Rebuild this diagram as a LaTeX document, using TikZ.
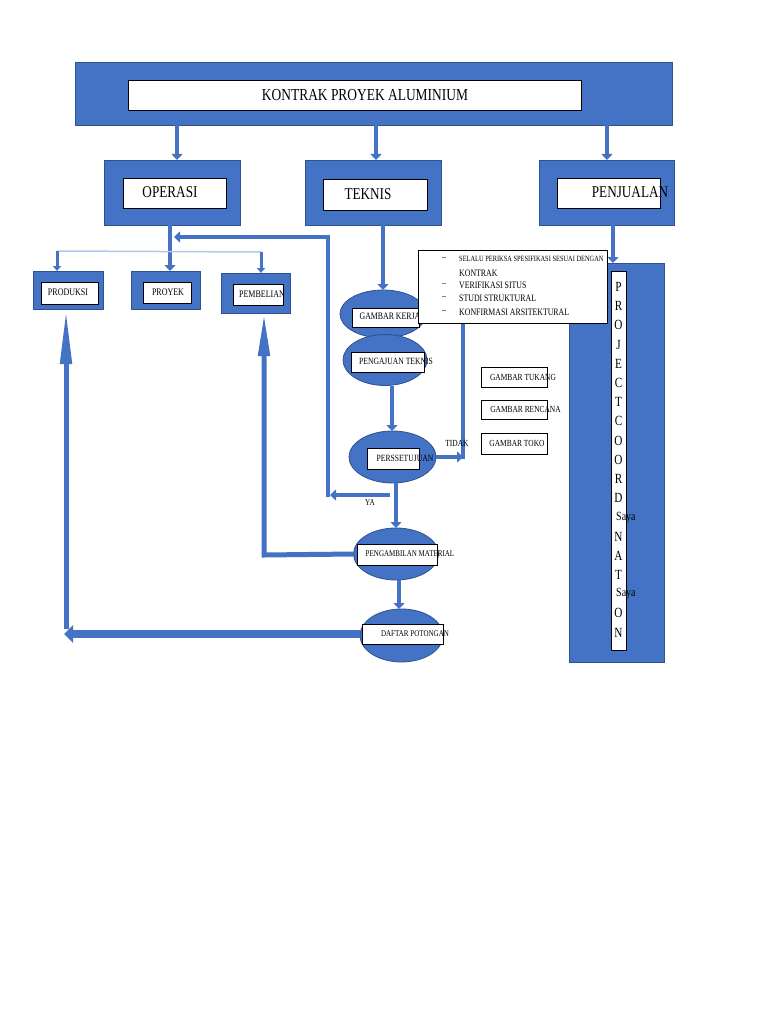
\documentclass[tikz,border=0pt]{standalone}
\usepackage{fontspec}
\setmainfont{Liberation Serif}[FakeStretch=0.8]
\usetikzlibrary{arrows.meta,shapes.geometric}
\definecolor{bfill}{HTML}{4472C4}
\definecolor{bedge}{HTML}{2F528F}
\definecolor{lightl}{HTML}{B4C7E7}
\newcommand{\fsz}[1]{\fontsize{#1}{#1}\selectfont}
\begin{document}
\begin{tikzpicture}[x=1pt,y=-1pt,
  bbox/.style={draw=bedge, fill=bfill, line width=0.8pt, anchor=north west, inner sep=0pt, outer sep=0pt},
  wbox/.style={draw=black, fill=white, line width=0.9pt, anchor=north west, inner sep=0pt, outer sep=0pt},
  ell/.style={ellipse, draw=bedge, fill=bfill, line width=0.8pt, inner sep=0pt, outer sep=0pt},
  lab/.style={inner sep=0pt, text=black},
  arrA/.style={draw=bfill, line width=4.5pt, line join=miter, -{Triangle[length=6pt,width=11pt]}},
  arrB/.style={draw=bfill, line width=3pt, -{Triangle[length=5pt,width=8pt]}},
  lineA/.style={draw=bfill, line width=4.5pt},
  thinl/.style={draw=lightl, line width=1.5pt},
  upArr/.style={draw=bfill, line width=5pt, line join=miter, -{Triangle[length=55pt,width=11pt]}},
  upArr2/.style={draw=bfill, line width=5pt, line join=miter, -{Triangle[length=43pt,width=11pt]}},
  bigArr/.style={draw=bfill, line width=8pt, -{Triangle[length=9pt,width=17pt]}}
]
\useasboundingbox[fill=white] (0,0) rectangle (768,1024);

% ---- top box
\node[bbox,minimum width=597pt,minimum height=63pt] (topb) at (75,62) {};
\node[wbox,minimum width=453pt,minimum height=30pt] (topw) at (128,80) {};
\node[lab,font=\fsz{16.8}] (toptx) at (365,95) {KONTRAK PROYEK ALUMINIUM};

% ---- second row
\node[bbox,minimum width=136pt,minimum height=65pt] (opb) at (104,160) {};
\node[wbox,minimum width=103pt,minimum height=30pt] (opw) at (123,178) {};
\node[lab,font=\fsz{16.5}] (optx) at (170,192) {OPERASI};

\node[bbox,minimum width=136pt,minimum height=65pt] (tkb) at (305,160) {};
\node[wbox,minimum width=104pt,minimum height=31pt] (tkw) at (323,179) {};
\node[lab,font=\fsz{16.5}] (tktx) at (368,194) {TEKNIS};

\node[bbox,minimum width=135pt,minimum height=65pt] (pjb) at (539,160) {};
\node[wbox,minimum width=103pt,minimum height=30pt] (pjw) at (557,178) {};
\node[lab,font=\fsz{16.5}] (pjtx) at (630,192) {PENJUALAN};

% ---- third row (operasi)
\node[bbox,minimum width=70pt,minimum height=38pt] (pdb) at (33,271) {};
\node[wbox,minimum width=57pt,minimum height=22pt] (pdw) at (41,282) {};
\node[lab,font=\fsz{10}] (pdtx) at (68,292) {PRODUKSI};

\node[bbox,minimum width=69pt,minimum height=38pt] (pyb) at (131,271) {};
\node[wbox,minimum width=48pt,minimum height=21pt] (pyw) at (143,282) {};
\node[lab,font=\fsz{10}] (pytx) at (168,292) {PROYEK};

\node[bbox,minimum width=69pt,minimum height=40pt] (pmb) at (221,273) {};
\node[wbox,minimum width=50pt,minimum height=21pt] (pmw) at (233,284) {};
\node[lab,font=\fsz{10}] (pmtx) at (262,294) {PEMBELIAN};

% ---- project coordination column
\node[bbox,minimum width=95pt,minimum height=399pt] (colb) at (569,263) {};
\node[wbox,minimum width=15pt,minimum height=379pt] (colw) at (611,271) {};
\foreach \i/\L in {0/P,1/R,2/O,3/J,4/E,5/C,6/T,7/C,8/O,9/O,10/R,11/D,13/N,14/A,15/T,17/O,18/N}{
  \node[lab,font=\fsz{14}] (cl\i) at (618.5,{287+19.2*\i}) {\L};
}
\node[lab,font=\fsz{12.5},anchor=west] (saya1) at (616,{287+19.2*12}) {Saya};
\node[lab,font=\fsz{12.5},anchor=west] (saya2) at (616,{287+19.2*16}) {Saya};

% ---- right small boxes
\node[wbox,minimum width=66pt,minimum height=20pt] (gtu) at (481,367) {};
\node[lab,font=\fsz{9.3}] (gtutx) at (523,377) {GAMBAR TUKANG};
\node[wbox,minimum width=66pt,minimum height=19pt] (gre) at (481,400) {};
\node[lab,font=\fsz{9.3}] (gretx) at (525.5,409.5) {GAMBAR RENCANA};
\node[wbox,minimum width=66pt,minimum height=21pt] (gto) at (481,433) {};
\node[lab,font=\fsz{9.3}] (gtotx) at (517,443) {GAMBAR TOKO};

% ---- connectors (behind ellipses)
\draw[arrA] (topb.south -| 177,0) -- (opb.north -| 177,0);
\draw[arrA] (topb.south -| 376,0) -- (tkb.north -| 376,0);
\draw[arrA] (topb.south -| 607,0) -- (pjb.north -| 607,0);
\draw[arrA] (opb.south -| 170,0) -- (pyb.north -| 170,0);
\coordinate (hl) at (57,251);
\coordinate (hr) at (261,252);
\draw[thinl] (hl) -- (hr);
\draw[arrB] (hl) -- (pdb.north -| hl);
\draw[arrB] (hr) -- (pmb.north -| hr);
\draw[arrA] (pjb.south -| 613,0) -- (colb.north -| 613,0);

% ellipses (teknis column)
\node[ell,minimum width=86pt,minimum height=48pt] (gk) at (383,314) {};
\node[ell,minimum width=84pt,minimum height=51pt] (pt) at (385,360) {};
\node[ell,minimum width=87pt,minimum height=52pt] (ps) at (392.5,457) {};
\node[ell,minimum width=85pt,minimum height=52pt] (pm) at (396,554) {};
\node[ell,minimum width=83pt,minimum height=53pt] (dp) at (401.5,635.5) {};

\draw[arrA] (tkb.south -| gk.north) -- (gk.north);
\draw[arrA] (pt.south -| 392,0) -- (ps.north -| 392,0);
\draw[arrA] (ps.south -| 396,0) -- (pm.north -| 396,0);
\draw[arrA] (pm.south -| 399,0) -- (dp.north -| 399,0);

% TIDAK loop
\coordinate (tr) at (463,457);
\draw[lineA] (463,459) -- (463,300);
\draw[arrA] (ps.east) -- (tr);
\node[lab,font=\fsz{9.3}] (tidak) at (457,443) {TIDAK};

% YA loop back to operasi
\coordinate (yaR) at (390,495);
\coordinate (yaL) at (330,495);
\coordinate (ybB) at (328,497);
\coordinate (ybT) at (328,237);
\coordinate (ybE) at (174,237);
\draw[arrA] (yaR) -- (yaL);
\draw[arrA] (ybB) -- (ybT) -- (ybE);
\node[lab,font=\fsz{9}] (ya) at (370,503) {YA};

% pengambilan material -> pembelian
\coordinate (pmc) at (264,555);
\draw[upArr2] (pm.west) -- (pmc) -- (pmb.south -| pmc);

% daftar potongan -> produksi
\coordinate (bl) at (64,634);
\coordinate (bv) at (66,629);
\draw[bigArr] (dp.west |- bl) -- (bl);
\draw[upArr] (bv) -- (pdb.south -| bv);

% white label boxes on ellipses
\node[wbox,minimum width=67pt,minimum height=19pt] (gkw) at (352,308) {};
\node[lab,font=\fsz{9.8}] (gktx) at (390,316) {GAMBAR KERJA};
\node[wbox,minimum width=73pt,minimum height=20pt] (ptw) at (351,352) {};
\node[lab,font=\fsz{9.5}] (pttx) at (396,361) {PENGAJUAN TEKNIS};
\node[wbox,minimum width=52pt,minimum height=21pt] (psw) at (367,448) {};
\node[lab,font=\fsz{9.5}] (pstx) at (405,458) {PERSSETUJUAN};
\node[wbox,minimum width=80pt,minimum height=21pt] (pmw2) at (357,544) {};
\node[lab,font=\fsz{8.8}] (pmtx2) at (410,554) {PENGAMBILAN MATERIAL};
\node[wbox,minimum width=81pt,minimum height=20pt] (dpw) at (362,624) {};
\node[lab,font=\fsz{8.8}] (dptx) at (415,634) {DAFTAR POTONGAN};

% note box
\node[wbox,minimum width=189pt,minimum height=73pt] (note) at (418,250) {};
\foreach \yy/\nm in {259/a,285/b,298/c,312/d}{
  \node[lab,font=\fsz{10}] (dash\nm) at (444,\yy) {–};
}
\node[lab,font=\fsz{8},anchor=west] (n1) at (459,259) {SELALU PERIKSA SPESIFIKASI SESUAI DENGAN};
\node[lab,font=\fsz{9.8},anchor=west] (n2) at (459,273) {KONTRAK};
\node[lab,font=\fsz{9.8},anchor=west] (n3) at (459,285) {VERIFIKASI SITUS};
\node[lab,font=\fsz{9.8},anchor=west] (n4) at (459,298) {STUDI STRUKTURAL};
\node[lab,font=\fsz{9.8},anchor=west] (n5) at (459,312) {KONFIRMASI ARSITEKTURAL};
\end{tikzpicture}
\end{document}
